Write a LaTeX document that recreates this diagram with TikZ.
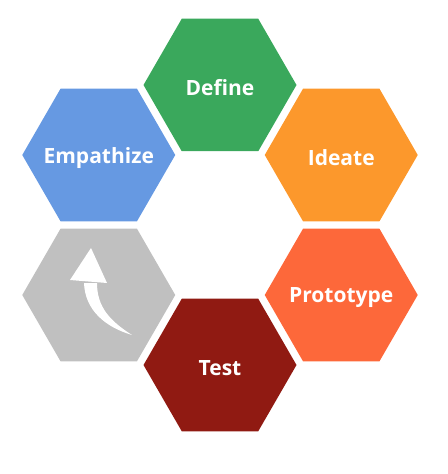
\documentclass[tikz,border=0pt]{standalone}
\usepackage{fontspec}
\setmainfont{Open Sans}
\usetikzlibrary{shapes.geometric}
\definecolor{definegreen}{RGB}{58,168,92}
\definecolor{empathblue}{RGB}{102,153,226}
\definecolor{ideateorange}{RGB}{252,152,44}
\definecolor{protored}{RGB}{253,104,58}
\definecolor{testred}{RGB}{144,26,18}
\definecolor{loopgray}{RGB}{192,192,192}
\begin{document}
\begin{tikzpicture}[x=0.75pt,y=0.75pt,
  hexa/.style={regular polygon, regular polygon sides=6, minimum size=114.75pt,
    inner sep=0pt, outer sep=0pt},
  hexlabel/.style={text=white, inner sep=0pt, yshift=-2pt,
    font=\bfseries\fontsize{15.75}{18}\selectfont}]
  \useasboundingbox (-220,-249) rectangle (228,225);
  \coordinate (ring) at (0,0);
  \node[hexa, fill=definegreen, label={[hexlabel]center:Define}]       (define)    at (90:140)  {};
  \node[hexa, fill=ideateorange, label={[hexlabel]center:Ideate}]      (ideate)    at (30:140)  {};
  \node[hexa, fill=protored, label={[hexlabel]center:Prototype}]       (prototype) at (-30:140) {};
  \node[hexa, fill=testred, label={[hexlabel]center:Test}]             (test)      at (-90:140) {};
  \node[hexa, fill=loopgray]                                           (loop)      at (210:140) {};
  \node[hexa, fill=empathblue, label={[hexlabel]center:Empathize}]     (empathize) at (150:140) {};
  % white brush arrow back to the start
  \fill[white] (-136,-58) .. controls (-135,-85) and (-115,-102) .. (-88,-110)
    .. controls (-110,-96) and (-123,-82) .. (-123,-58) -- cycle;
  \fill[white] (-129,-23) -- (-150,-55) -- (-113,-58) -- cycle;
\end{tikzpicture}
\end{document}
